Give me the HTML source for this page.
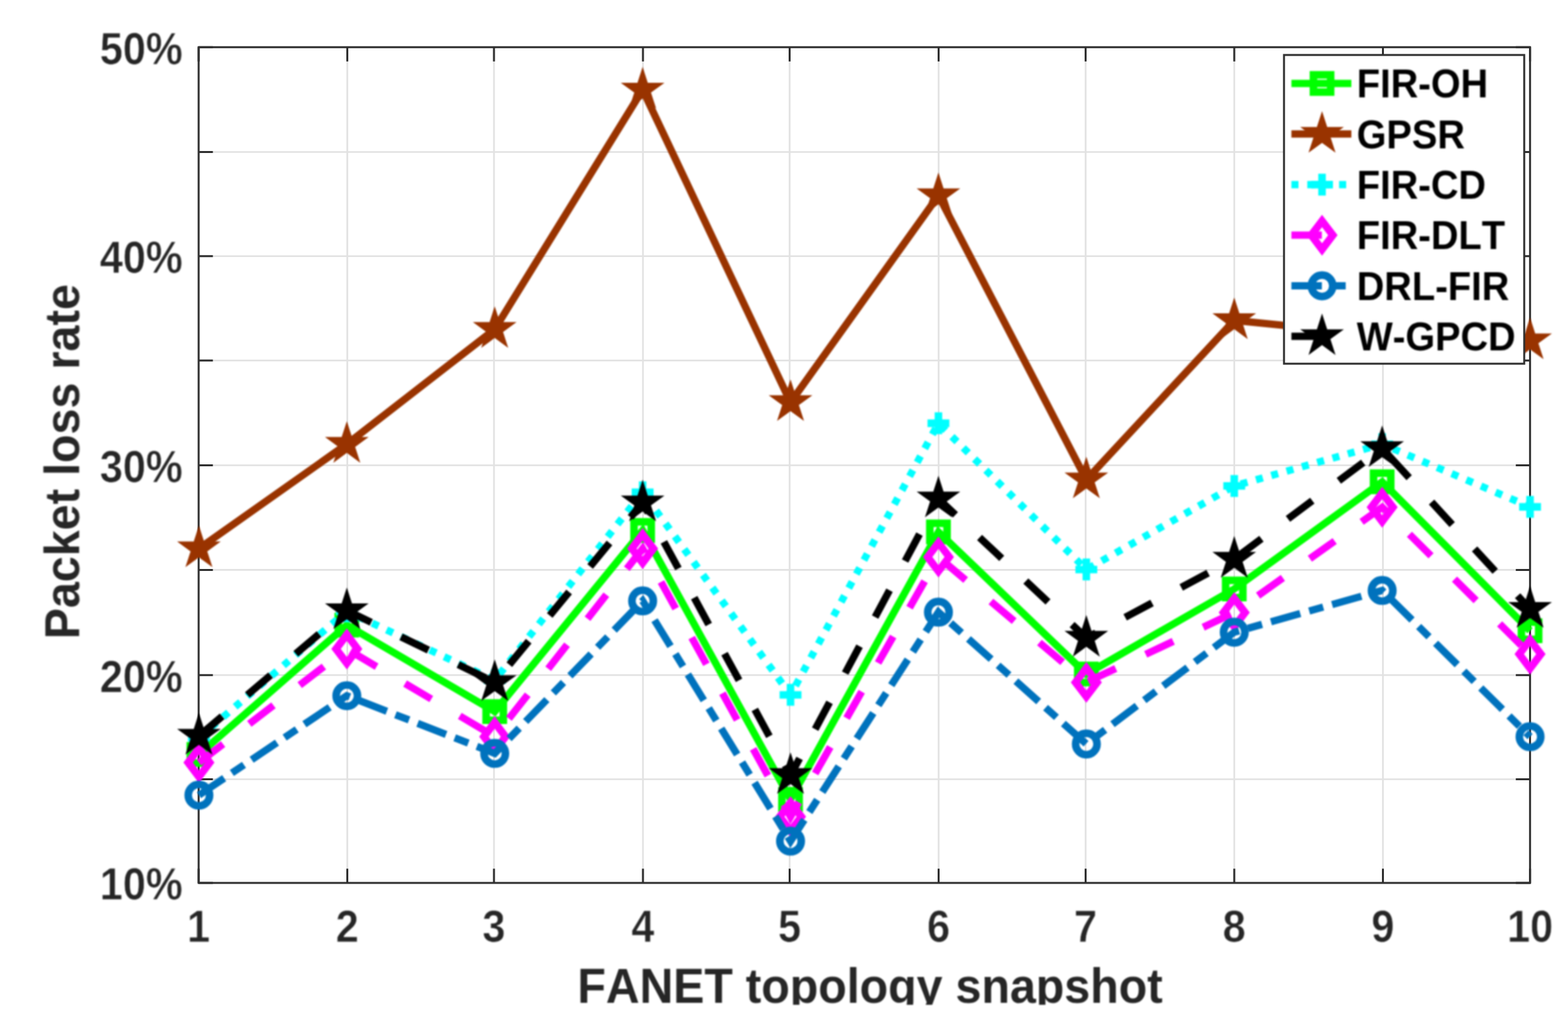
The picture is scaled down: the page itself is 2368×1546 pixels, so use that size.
<!DOCTYPE html>
<html lang="en"><head><meta charset="utf-8"><title>Packet loss rate vs FANET topology snapshot</title>
<style>html,body{margin:0;padding:0;background:#fff;}body{width:2368px;height:1546px;overflow:hidden;}svg{display:block;}text{font-family:"Liberation Sans",sans-serif;font-weight:bold;font-kerning:none;}</style></head><body>
<svg xmlns="http://www.w3.org/2000/svg" width="2368" height="1546" viewBox="0 0 2368 1546">
<defs><filter id="bl" color-interpolation-filters="sRGB" x="-2%" y="-2%" width="104%" height="104%"><feGaussianBlur stdDeviation="1.0"/></filter>
<clipPath id="cx"><rect x="0" y="0" width="2368" height="1516.3"/></clipPath></defs>
<rect width="2368" height="1546" fill="#fff"/>
<path d="M524.5 71.25V1333M746 71.25V1333M971 71.25V1333M1192.5 71.25V1333M1417.5 71.25V1333M1639.5 71.25V1333M1864 71.25V1333M2088.5 71.25V1333M300 1176.5H2310.7M300 1019.2H2310.7M300 860.4H2310.7M300 702.5H2310.7M300 544.25H2310.7M300 386.75H2310.7M300 229.5H2310.7" stroke="#e2e2e2" stroke-width="2.6" fill="none"/>
<path d="M300 1333v-21.5M300 71.25v21.5M524.5 1333v-21.5M524.5 71.25v21.5M746 1333v-21.5M746 71.25v21.5M971 1333v-21.5M971 71.25v21.5M1192.5 1333v-21.5M1192.5 71.25v21.5M1417.5 1333v-21.5M1417.5 71.25v21.5M1639.5 1333v-21.5M1639.5 71.25v21.5M1864 1333v-21.5M1864 71.25v21.5M2088.5 1333v-21.5M2088.5 71.25v21.5M2310.7 1333v-21.5M2310.7 71.25v21.5M300 1333h21.5M2310.7 1333h-21.5M300 1176.5h21.5M2310.7 1176.5h-21.5M300 1019.2h21.5M2310.7 1019.2h-21.5M300 860.4h21.5M2310.7 860.4h-21.5M300 702.5h21.5M2310.7 702.5h-21.5M300 544.25h21.5M2310.7 544.25h-21.5M300 386.75h21.5M2310.7 386.75h-21.5M300 229.5h21.5M2310.7 229.5h-21.5M300 71.25h21.5M2310.7 71.25h-21.5" stroke="#303030" stroke-width="3.0" fill="none"/>
<rect x="300" y="71.25" width="2010.7" height="1261.75" fill="none" stroke="#303030" stroke-width="3.0"/>
<g filter="url(#bl)">
<text transform="translate(276 1358.4) scale(0.955 1.035)" font-size="65.5" text-anchor="end" fill="#262626" stroke="#fff" stroke-width="0.7" stroke-linejoin="round">10%</text>
<text transform="translate(276 1044.6) scale(0.955 1.035)" font-size="65.5" text-anchor="end" fill="#262626" stroke="#fff" stroke-width="0.7" stroke-linejoin="round">20%</text>
<text transform="translate(276 727.9) scale(0.955 1.035)" font-size="65.5" text-anchor="end" fill="#262626" stroke="#fff" stroke-width="0.7" stroke-linejoin="round">30%</text>
<text transform="translate(276 412.15) scale(0.955 1.035)" font-size="65.5" text-anchor="end" fill="#262626" stroke="#fff" stroke-width="0.7" stroke-linejoin="round">40%</text>
<text transform="translate(276 96.65) scale(0.955 1.035)" font-size="65.5" text-anchor="end" fill="#262626" stroke="#fff" stroke-width="0.7" stroke-linejoin="round">50%</text>
<text transform="translate(300 1421.5) scale(0.955 1.035)" font-size="65.5" text-anchor="middle" fill="#262626" stroke="#fff" stroke-width="0.7" stroke-linejoin="round">1</text>
<text transform="translate(524.5 1421.5) scale(0.955 1.035)" font-size="65.5" text-anchor="middle" fill="#262626" stroke="#fff" stroke-width="0.7" stroke-linejoin="round">2</text>
<text transform="translate(746 1421.5) scale(0.955 1.035)" font-size="65.5" text-anchor="middle" fill="#262626" stroke="#fff" stroke-width="0.7" stroke-linejoin="round">3</text>
<text transform="translate(971 1421.5) scale(0.955 1.035)" font-size="65.5" text-anchor="middle" fill="#262626" stroke="#fff" stroke-width="0.7" stroke-linejoin="round">4</text>
<text transform="translate(1192.5 1421.5) scale(0.955 1.035)" font-size="65.5" text-anchor="middle" fill="#262626" stroke="#fff" stroke-width="0.7" stroke-linejoin="round">5</text>
<text transform="translate(1417.5 1421.5) scale(0.955 1.035)" font-size="65.5" text-anchor="middle" fill="#262626" stroke="#fff" stroke-width="0.7" stroke-linejoin="round">6</text>
<text transform="translate(1639.5 1421.5) scale(0.955 1.035)" font-size="65.5" text-anchor="middle" fill="#262626" stroke="#fff" stroke-width="0.7" stroke-linejoin="round">7</text>
<text transform="translate(1864 1421.5) scale(0.955 1.035)" font-size="65.5" text-anchor="middle" fill="#262626" stroke="#fff" stroke-width="0.7" stroke-linejoin="round">8</text>
<text transform="translate(2088.5 1421.5) scale(0.955 1.035)" font-size="65.5" text-anchor="middle" fill="#262626" stroke="#fff" stroke-width="0.7" stroke-linejoin="round">9</text>
<text transform="translate(2310.7 1421.5) scale(0.955 1.035)" font-size="65.5" text-anchor="middle" fill="#262626" stroke="#fff" stroke-width="0.7" stroke-linejoin="round">10</text>
<g clip-path="url(#cx)"><text transform="translate(1314 1513.8) scale(1 1.065)" font-size="70.4" text-anchor="middle" fill="#262626">FANET topology snapshot</text></g>
<text transform="translate(119.8 697) rotate(-90) scale(1 1.065)" font-size="70.4" text-anchor="middle" fill="#262626">Packet loss rate</text>
<path d="M300.4 1139.01L523.77 943.75L747.13 1074.34L970.5 800.86L1193.87 1206.83L1417.23 803.06L1640.6 1017.56L1863.97 889.18L2087.33 727.36L2310.7 952.27" stroke="#00ff00" stroke-width="11.0" fill="none" stroke-linejoin="miter"/>
<rect x="287.4" y="1126.01" width="26" height="26" fill="none" stroke="#00ff00" stroke-width="11.4"/>
<rect x="510.77" y="930.75" width="26" height="26" fill="none" stroke="#00ff00" stroke-width="11.4"/>
<rect x="734.13" y="1061.34" width="26" height="26" fill="none" stroke="#00ff00" stroke-width="11.4"/>
<rect x="957.5" y="787.86" width="26" height="26" fill="none" stroke="#00ff00" stroke-width="11.4"/>
<rect x="1180.87" y="1193.83" width="26" height="26" fill="none" stroke="#00ff00" stroke-width="11.4"/>
<rect x="1404.23" y="790.06" width="26" height="26" fill="none" stroke="#00ff00" stroke-width="11.4"/>
<rect x="1627.6" y="1004.56" width="26" height="26" fill="none" stroke="#00ff00" stroke-width="11.4"/>
<rect x="1850.97" y="876.18" width="26" height="26" fill="none" stroke="#00ff00" stroke-width="11.4"/>
<rect x="2074.33" y="714.36" width="26" height="26" fill="none" stroke="#00ff00" stroke-width="11.4"/>
<rect x="2297.7" y="939.27" width="26" height="26" fill="none" stroke="#00ff00" stroke-width="11.4"/>
<path d="M300.4 828.3L523.77 670.58L747.13 497.09L970.5 135.6L1193.87 607.49L1417.23 295.21L1640.6 724.21L1863.97 483.84L2087.33 505.92L2310.7 514.12" stroke="#993300" stroke-width="11.0" fill="none" stroke-linejoin="miter"/>
<polygon points="300.4,793.6 308.19,817.58 333.4,817.58 313.01,832.4 320.8,856.37 300.4,841.56 280,856.37 287.79,832.4 267.4,817.58 292.61,817.58" fill="#993300"/>
<polygon points="523.77,635.88 531.56,659.86 556.77,659.86 536.37,674.68 544.16,698.65 523.77,683.84 503.37,698.65 511.16,674.68 490.77,659.86 515.98,659.86" fill="#993300"/>
<polygon points="747.13,462.39 754.92,486.37 780.13,486.37 759.74,501.19 767.53,525.16 747.13,510.35 726.74,525.16 734.53,501.19 714.13,486.37 739.34,486.37" fill="#993300"/>
<polygon points="970.5,100.9 978.29,124.88 1003.5,124.88 983.11,139.7 990.9,163.67 970.5,148.85 950.1,163.67 957.89,139.7 937.5,124.88 962.71,124.88" fill="#993300"/>
<polygon points="1193.87,572.79 1201.66,596.77 1226.87,596.77 1206.47,611.59 1214.26,635.57 1193.87,620.75 1173.47,635.57 1181.26,611.59 1160.87,596.77 1186.08,596.77" fill="#993300"/>
<polygon points="1417.23,260.51 1425.02,284.49 1450.23,284.49 1429.84,299.31 1437.63,323.28 1417.23,308.47 1396.84,323.28 1404.63,299.31 1384.23,284.49 1409.44,284.49" fill="#993300"/>
<polygon points="1640.6,689.51 1648.39,713.48 1673.6,713.48 1653.21,728.3 1661,752.28 1640.6,737.46 1620.2,752.28 1627.99,728.3 1607.6,713.48 1632.81,713.48" fill="#993300"/>
<polygon points="1863.97,449.14 1871.76,473.12 1896.97,473.12 1876.57,487.94 1884.36,511.92 1863.97,497.1 1843.57,511.92 1851.36,487.94 1830.97,473.12 1856.18,473.12" fill="#993300"/>
<polygon points="2087.33,471.22 2095.12,495.2 2120.33,495.2 2099.94,510.02 2107.73,534 2087.33,519.18 2066.94,534 2074.73,510.02 2054.33,495.2 2079.54,495.2" fill="#993300"/>
<polygon points="2310.7,479.42 2318.49,503.4 2343.7,503.4 2323.31,518.22 2331.1,542.2 2310.7,527.38 2290.3,542.2 2298.09,518.22 2277.7,503.4 2302.91,503.4" fill="#993300"/>
<path d="M300.4 1113.77L523.77 922.93L747.13 1027.03L970.5 743.13L1193.87 1049.11L1417.23 639.04L1640.6 859.84L1863.97 733.67L2087.33 670.58L2310.7 765.21" stroke="#00ffff" stroke-width="11.0" fill="none" stroke-linejoin="miter" stroke-dasharray="10.7 13.3" stroke-dashoffset="0"/>
<path d="M283.9 1113.77H316.9M300.4 1097.27V1130.27" stroke="#00ffff" stroke-width="11.4" fill="none"/>
<path d="M507.27 922.93H540.27M523.77 906.43V939.43" stroke="#00ffff" stroke-width="11.4" fill="none"/>
<path d="M730.63 1027.03H763.63M747.13 1010.53V1043.53" stroke="#00ffff" stroke-width="11.4" fill="none"/>
<path d="M954 743.13H987M970.5 726.63V759.63" stroke="#00ffff" stroke-width="11.4" fill="none"/>
<path d="M1177.37 1049.11H1210.37M1193.87 1032.61V1065.61" stroke="#00ffff" stroke-width="11.4" fill="none"/>
<path d="M1400.73 639.04H1433.73M1417.23 622.54V655.54" stroke="#00ffff" stroke-width="11.4" fill="none"/>
<path d="M1624.1 859.84H1657.1M1640.6 843.34V876.34" stroke="#00ffff" stroke-width="11.4" fill="none"/>
<path d="M1847.47 733.67H1880.47M1863.97 717.17V750.17" stroke="#00ffff" stroke-width="11.4" fill="none"/>
<path d="M2070.83 670.58H2103.83M2087.33 654.08V687.08" stroke="#00ffff" stroke-width="11.4" fill="none"/>
<path d="M2294.2 765.21H2327.2M2310.7 748.71V781.71" stroke="#00ffff" stroke-width="11.4" fill="none"/>
<path d="M300.4 1151.31L523.77 979.71L747.13 1112.19L970.5 828.3L1193.87 1233.01L1417.23 840.92L1640.6 1030.18L1863.97 924.82L2087.33 765.84L2310.7 987.6" stroke="#ff00ff" stroke-width="11.0" fill="none" stroke-linejoin="miter" stroke-dasharray="46 50" stroke-dashoffset="0"/>
<polygon points="300.4,1129.81 316.7,1151.31 300.4,1172.81 284.1,1151.31" fill="none" stroke="#ff00ff" stroke-width="11.4" stroke-linejoin="miter" stroke-miterlimit="10"/>
<polygon points="523.77,958.21 540.07,979.71 523.77,1001.21 507.47,979.71" fill="none" stroke="#ff00ff" stroke-width="11.4" stroke-linejoin="miter" stroke-miterlimit="10"/>
<polygon points="747.13,1090.69 763.43,1112.19 747.13,1133.69 730.83,1112.19" fill="none" stroke="#ff00ff" stroke-width="11.4" stroke-linejoin="miter" stroke-miterlimit="10"/>
<polygon points="970.5,806.8 986.8,828.3 970.5,849.8 954.2,828.3" fill="none" stroke="#ff00ff" stroke-width="11.4" stroke-linejoin="miter" stroke-miterlimit="10"/>
<polygon points="1193.87,1211.51 1210.17,1233.01 1193.87,1254.51 1177.57,1233.01" fill="none" stroke="#ff00ff" stroke-width="11.4" stroke-linejoin="miter" stroke-miterlimit="10"/>
<polygon points="1417.23,819.42 1433.53,840.92 1417.23,862.42 1400.93,840.92" fill="none" stroke="#ff00ff" stroke-width="11.4" stroke-linejoin="miter" stroke-miterlimit="10"/>
<polygon points="1640.6,1008.68 1656.9,1030.18 1640.6,1051.68 1624.3,1030.18" fill="none" stroke="#ff00ff" stroke-width="11.4" stroke-linejoin="miter" stroke-miterlimit="10"/>
<polygon points="1863.97,903.32 1880.27,924.82 1863.97,946.32 1847.67,924.82" fill="none" stroke="#ff00ff" stroke-width="11.4" stroke-linejoin="miter" stroke-miterlimit="10"/>
<polygon points="2087.33,744.34 2103.63,765.84 2087.33,787.34 2071.03,765.84" fill="none" stroke="#ff00ff" stroke-width="11.4" stroke-linejoin="miter" stroke-miterlimit="10"/>
<polygon points="2310.7,966.1 2327,987.6 2310.7,1009.1 2294.4,987.6" fill="none" stroke="#ff00ff" stroke-width="11.4" stroke-linejoin="miter" stroke-miterlimit="10"/>
<path d="M300.4 1200.52L523.77 1050.37L747.13 1137.43L970.5 907.16L1193.87 1269.91L1417.23 924.19L1640.6 1123.23L1863.97 954.48L2087.33 891.39L2310.7 1112.19" stroke="#0072bd" stroke-width="11.0" fill="none" stroke-linejoin="miter" stroke-dasharray="46 14 22 14" stroke-dashoffset="0"/>
<circle cx="300.4" cy="1200.52" r="16.2" fill="none" stroke="#0072bd" stroke-width="11.4"/>
<circle cx="523.77" cy="1050.37" r="16.2" fill="none" stroke="#0072bd" stroke-width="11.4"/>
<circle cx="747.13" cy="1137.43" r="16.2" fill="none" stroke="#0072bd" stroke-width="11.4"/>
<circle cx="970.5" cy="907.16" r="16.2" fill="none" stroke="#0072bd" stroke-width="11.4"/>
<circle cx="1193.87" cy="1269.91" r="16.2" fill="none" stroke="#0072bd" stroke-width="11.4"/>
<circle cx="1417.23" cy="924.19" r="16.2" fill="none" stroke="#0072bd" stroke-width="11.4"/>
<circle cx="1640.6" cy="1123.23" r="16.2" fill="none" stroke="#0072bd" stroke-width="11.4"/>
<circle cx="1863.97" cy="954.48" r="16.2" fill="none" stroke="#0072bd" stroke-width="11.4"/>
<circle cx="2087.33" cy="891.39" r="16.2" fill="none" stroke="#0072bd" stroke-width="11.4"/>
<circle cx="2310.7" cy="1112.19" r="16.2" fill="none" stroke="#0072bd" stroke-width="11.4"/>
<path d="M300.4 1111.25L523.77 921.67L747.13 1030.18L970.5 758.9L1193.87 1170.55L1417.23 752.91L1640.6 963.31L1863.97 844.07L2087.33 676.89L2310.7 919.78" stroke="#000000" stroke-width="11.0" fill="none" stroke-linejoin="miter" stroke-dasharray="46 50" stroke-dashoffset="0"/>
<polygon points="300.4,1076.55 308.19,1100.52 333.4,1100.52 313.01,1115.34 320.8,1139.32 300.4,1124.5 280,1139.32 287.79,1115.34 267.4,1100.52 292.61,1100.52" fill="#000000"/>
<polygon points="523.77,886.97 531.56,910.95 556.77,910.95 536.37,925.77 544.16,949.74 523.77,934.92 503.37,949.74 511.16,925.77 490.77,910.95 515.98,910.95" fill="#000000"/>
<polygon points="747.13,995.48 754.92,1019.46 780.13,1019.46 759.74,1034.28 767.53,1058.25 747.13,1043.44 726.74,1058.25 734.53,1034.28 714.13,1019.46 739.34,1019.46" fill="#000000"/>
<polygon points="970.5,724.2 978.29,748.18 1003.5,748.18 983.11,763 990.9,786.98 970.5,772.16 950.1,786.98 957.89,763 937.5,748.18 962.71,748.18" fill="#000000"/>
<polygon points="1193.87,1135.85 1201.66,1159.83 1226.87,1159.83 1206.47,1174.65 1214.26,1198.62 1193.87,1183.81 1173.47,1198.62 1181.26,1174.65 1160.87,1159.83 1186.08,1159.83" fill="#000000"/>
<polygon points="1417.23,718.21 1425.02,742.19 1450.23,742.19 1429.84,757.01 1437.63,780.98 1417.23,766.17 1396.84,780.98 1404.63,757.01 1384.23,742.19 1409.44,742.19" fill="#000000"/>
<polygon points="1640.6,928.61 1648.39,952.58 1673.6,952.58 1653.21,967.4 1661,991.38 1640.6,976.56 1620.2,991.38 1627.99,967.4 1607.6,952.58 1632.81,952.58" fill="#000000"/>
<polygon points="1863.97,809.37 1871.76,833.35 1896.97,833.35 1876.57,848.17 1884.36,872.14 1863.97,857.33 1843.57,872.14 1851.36,848.17 1830.97,833.35 1856.18,833.35" fill="#000000"/>
<polygon points="2087.33,642.19 2095.12,666.17 2120.33,666.17 2099.94,680.99 2107.73,704.96 2087.33,690.15 2066.94,704.96 2074.73,680.99 2054.33,666.17 2079.54,666.17" fill="#000000"/>
<polygon points="2310.7,885.08 2318.49,909.05 2343.7,909.05 2323.31,923.87 2331.1,947.85 2310.7,933.03 2290.3,947.85 2298.09,923.87 2277.7,909.05 2302.91,909.05" fill="#000000"/>
</g>
<rect x="1939.1" y="83.0" width="362.8" height="466.1" fill="#fff" stroke="#303030" stroke-width="3.0"/>
<g filter="url(#bl)">
<path d="M1950.3 126H2040.8" stroke="#00ff00" stroke-width="11.0" fill="none"/>
<rect x="1983.55" y="113" width="26" height="26" fill="none" stroke="#00ff00" stroke-width="11.4"/>
<text transform="translate(2049 147.3) scale(1 1.065)" font-size="57.6" text-anchor="start" fill="#000">FIR-OH</text>
<path d="M1950.3 202.37H2040.8" stroke="#993300" stroke-width="11.0" fill="none"/>
<polygon points="1996.55,167.67 2004.34,191.65 2029.55,191.65 2009.16,206.47 2016.95,230.44 1996.55,215.63 1976.15,230.44 1983.94,206.47 1963.55,191.65 1988.76,191.65" fill="#993300"/>
<text transform="translate(2049 223.67) scale(1 1.065)" font-size="57.6" text-anchor="start" fill="#000">GPSR</text>
<path d="M1950.3 278.74H2040.8" stroke="#00ffff" stroke-width="11.0" fill="none" stroke-dasharray="10.7 13.3"/>
<path d="M1980.05 278.74H2013.05M1996.55 262.24V295.24" stroke="#00ffff" stroke-width="11.4" fill="none"/>
<text transform="translate(2049 300.04) scale(1 1.065)" font-size="57.6" text-anchor="start" fill="#000">FIR-CD</text>
<path d="M1950.3 355.11H2040.8" stroke="#ff00ff" stroke-width="11.0" fill="none" stroke-dasharray="46 50"/>
<polygon points="1996.55,333.61 2012.85,355.11 1996.55,376.61 1980.25,355.11" fill="none" stroke="#ff00ff" stroke-width="11.4" stroke-linejoin="miter" stroke-miterlimit="10"/>
<text transform="translate(2049 376.41) scale(1 1.065)" font-size="57.6" text-anchor="start" fill="#000">FIR-DLT</text>
<path d="M1950.3 431.48H2040.8" stroke="#0072bd" stroke-width="11.0" fill="none" stroke-dasharray="46 14 22 14"/>
<circle cx="1996.55" cy="431.48" r="16.2" fill="none" stroke="#0072bd" stroke-width="11.4"/>
<text transform="translate(2049 452.78) scale(1 1.065)" font-size="57.6" text-anchor="start" fill="#000">DRL-FIR</text>
<path d="M1950.3 507.85H2040.8" stroke="#000000" stroke-width="11.0" fill="none" stroke-dasharray="46 50"/>
<polygon points="1996.55,473.15 2004.34,497.13 2029.55,497.13 2009.16,511.95 2016.95,535.92 1996.55,521.11 1976.15,535.92 1983.94,511.95 1963.55,497.13 1988.76,497.13" fill="#000000"/>
<text transform="translate(2049 529.15) scale(1 1.065)" font-size="57.6" text-anchor="start" fill="#000">W-GPCD</text>
</g>
</svg></body></html>
